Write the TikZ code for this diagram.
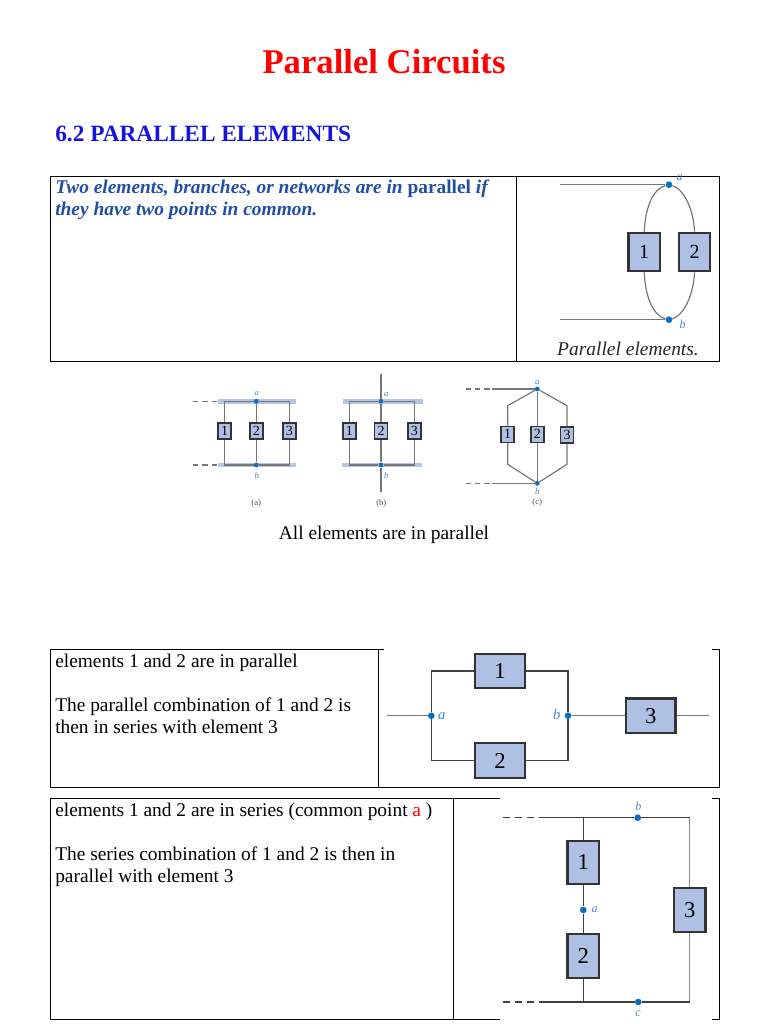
\documentclass[tikz,border=0pt]{standalone}
\usepackage{fontspec}
\setmainfont{Liberation Serif}
\usetikzlibrary{positioning}
\definecolor{myblue}{HTML}{AEC1E4}
\definecolor{mydot}{HTML}{0B6FBF}
\definecolor{mylabel}{HTML}{4A86C8}
\definecolor{myband}{HTML}{B4C5E6}
\definecolor{myhead}{HTML}{1414DC}
\definecolor{mynote}{HTML}{1F4EA8}
\definecolor{mywire}{HTML}{777777}
\newcommand{\SzBody}{\fontsize{14.55}{16.5}\selectfont}
\newcommand{\SzSmall}{\fontsize{10.5}{11}\selectfont}
\newcommand{\SzBig}{\fontsize{17}{18}\selectfont}
\tikzset{
  element/.style={draw=black!80, fill=myblue, line width=1.6pt, inner sep=0pt, minimum width=31.5pt*0.75, minimum height=38.5pt*0.75, font=\fontsize{15}{16}\selectfont},
  elementS/.style={element, line width=1.2pt, minimum width=13pt*0.75, minimum height=16pt*0.75, font=\SzSmall},
  elementW/.style={element, minimum width=49.5pt*0.75, minimum height=34.5pt*0.75, font=\SzBig},
  elementT/.style={element, minimum width=31.5pt*0.75, minimum height=43.5pt*0.75, font=\SzBig},
  junction/.style={circle, fill=mydot, inner sep=0pt, minimum size=5pt},
  junctionS/.style={circle, fill=mydot, inner sep=0pt, minimum size=3.6pt},
  wire/.style={draw=mywire, line width=0.9pt},
  darkwire/.style={draw=black!75, line width=0.8pt},
  greywire/.style={draw=black!45, line width=1pt},
  dashS/.style={dash pattern=on 4pt off 3pt},
  dashL/.style={dash pattern=on 5pt off 4pt},
  band/.style={draw=none, fill=myband, inner sep=0pt, minimum height=4.5pt*0.75},
  frame/.style={draw=black, line width=0.75pt},
  tag/.style={mylabel, inner sep=0pt, font=\itshape\fontsize{9}{10}\selectfont},
  tagS/.style={mylabel, inner sep=0pt, font=\itshape\fontsize{6.5}{7}\selectfont},
  tagW/.style={tag, font=\itshape\fontsize{11}{12}\selectfont},
  capt/.style={black!70, inner sep=0pt, font=\fontsize{6.5}{7}\selectfont},
  body/.style={inner sep=0pt, anchor=north west, align=left, font=\SzBody},
}
\begin{document}
\begin{tikzpicture}[x=0.75pt, y=-0.75pt]
  \useasboundingbox (0,0) rectangle (768,1024);

  \node[inner sep=0pt, red, font=\bfseries\fontsize{26}{30}\selectfont] (title) at (384,62) {Parallel Circuits};
  \node[inner sep=0pt, anchor=west, myhead, font=\bfseries\fontsize{17.5}{20}\selectfont] (head) at (55,133.5) {6.2 PARALLEL ELEMENTS};

  % first table
  \draw[frame] (50,176) rectangle (719,361);
  \draw[frame] (516,176) -- (516,361);
  \node[body, mynote, font=\SzBody\bfseries\itshape] (note) at (55,179.5) {Two elements, branches, or networks are in {\upshape parallel} if\\they have two points in common.};
  \node[junction] (Ta) at (669,184.7) {};
  \node[junction] (Tb) at (669,319.7) {};
  \coordinate (TaL) at (560,184.7);
  \coordinate (TbL) at (560,319.7);
  \node[element] (T1) at (644.2,252) {1};
  \node[element] (T2) at (694.5,252) {2};
  \draw[wire] (TaL) -- (Ta);
  \draw[wire] (TbL) -- (Tb);
  \draw[wire] (Ta) .. controls +(-16,4) and +(1,-24) .. (T1.north);
  \draw[wire] (Ta) .. controls +(14,4) and +(-1,-24) .. (T2.north);
  \draw[wire] (Tb) .. controls +(-16,-4) and +(1,24) .. (T1.south);
  \draw[wire] (Tb) .. controls +(14,-4) and +(-1,24) .. (T2.south);
  \node[tag] (Tla) at (679.5,178) {a};
  \node[tag] (Tlb) at (682.7,324) {b};
  \node[inner sep=0pt, black!85, font=\itshape\fontsize{14.6}{16}\selectfont] (Tcap) at (628,348.5) {Parallel elements.};

  % figure (a)
  \node[band, minimum width=78pt*0.75] (Aband) at (256.5,401.3) {};
  \node[band, minimum width=78pt*0.75] (Bband) at (256.5,465) {};
  \node[junctionS] (Aa) at (256.3,401.3) {};
  \node[junctionS] (Ab) at (256.3,465) {};
  \node[elementS] (A1) at (224.7,431) {1};
  \node[elementS] (A2) at (256.3,431) {2};
  \node[elementS] (A3) at (289.3,431) {3};
  \coordinate (AaL) at (193,401.3);
  \coordinate (AaM) at (217,401.3);
  \coordinate (AbL) at (193,465);
  \coordinate (AbM) at (217,465);
  \draw[wire, dashS] (AaL) -- (AaM);
  \draw[wire, dashS] (AbL) -- (AbM);
  \draw[wire] (Aa) -| (A3);
  \draw[wire] (Ab) -| (A3);
  \draw[wire] (Aa) -| (A1);
  \draw[wire] (Ab) -| (A1);
  \draw[wire] (Aa) -- (A2);
  \draw[wire] (Ab) -- (A2);
  \node[tagS] (Ala) at (256.7,393.3) {a};
  \node[tagS] (Alb) at (256.7,475.7) {b};
  \node[capt] (Acap) at (256.3,503) {(a)};

  % figure (b)
  \node[band, minimum width=80pt*0.75] (Cband) at (382.8,401.3) {};
  \node[band, minimum width=80pt*0.75] (Dband) at (381.8,465) {};
  \node[junctionS] (Ba) at (381,401.3) {};
  \node[junctionS] (Bb) at (381,465) {};
  \node[elementS] (B1) at (349.3,431) {1};
  \node[elementS] (B2) at (381,431) {2};
  \node[elementS] (B3) at (414.3,431) {3};
  \coordinate (BaT) at (381,374);
  \coordinate (BbB) at (381,492);
  \draw[wire] (BaT) -- (Ba);
  \draw[wire] (BbB) -- (Bb);
  \draw[wire] (Ba) -| (B1);
  \draw[wire] (Bb) -| (B1);
  \draw[wire] (Ba) -| (B3);
  \draw[wire] (Bb) -| (B3);
  \draw[wire] (Ba) -- (B2);
  \draw[wire] (Bb) -- (B2);
  \node[tagS] (Bla) at (386.3,395) {a};
  \node[tagS] (Blb) at (386.3,476) {b};
  \node[capt] (Bcap) at (381.3,503) {(b)};

  % figure (c)
  \node[junctionS] (Ca) at (537.3,389) {};
  \node[junctionS] (Cb) at (537.3,483.3) {};
  \node[elementS] (C1) at (507.7,434.3) {1};
  \node[elementS] (C2) at (537.3,434.3) {2};
  \node[elementS] (C3) at (567,435) {3};
  \coordinate (CaL) at (465.7,389);
  \coordinate (CaM) at (491.7,389);
  \coordinate (CbL) at (465.7,483.3);
  \coordinate (CbM) at (491.7,483.3);
  \coordinate (C1t) at (507.7,405.7);
  \coordinate (C1b) at (507.7,464.3);
  \coordinate (C3t) at (567,405.7);
  \coordinate (C3b) at (567,464.3);
  \draw[wire, dashS] (CaL) -- (CaM);
  \draw[wire, dashS] (CbL) -- (CbM);
  \draw[wire] (CaM) -- (Ca);
  \draw[wire] (CbM) -- (Cb);
  \draw[wire] (Ca) -- (C1t) -- (C1);
  \draw[wire] (Ca) -- (C3t) -- (C3);
  \draw[wire] (Cb) -- (C1b) -- (C1);
  \draw[wire] (Cb) -- (C3b) -- (C3);
  \draw[wire] (Ca) -- (C2);
  \draw[wire] (Cb) -- (C2);
  \node[tagS] (Cla) at (537.3,382.3) {a};
  \node[tagS] (Clb) at (537.3,491.7) {b};
  \node[capt] (Ccap) at (537.3,502.5) {(c)};

  \node[inner sep=0pt, font=\SzBody] (all) at (384,535) {All elements are in parallel};

  % second table
  \draw[frame] (50,649) -- (384,649);
  \draw[frame] (50,649) -- (50,787) -- (719,787) -- (719,649) -- (712,649);
  \draw[frame] (378,649) -- (378,787);
  \node[body] (second) at (55,653.5) {elements 1 and 2 are in parallel\\[16.5pt]The parallel combination of 1 and 2 is\\then in series with element 3};
  \node[junction] (Pa) at (431.3,715.7) {};
  \node[junction] (Pb) at (568,715.7) {};
  \node[elementW] (P1) at (500,671) {1};
  \node[elementW] (P2) at (500,760.5) {2};
  \node[elementW] (P3) at (650.7,715.7) {3};
  \coordinate (PL) at (386.7,715.7);
  \coordinate (PR) at (709,715.7);
  \draw[wire] (PL) -- (Pa);
  \draw[darkwire] (Pa) |- (P1);
  \draw[darkwire] (Pa) |- (P2);
  \draw[darkwire] (Pb) |- (P1);
  \draw[darkwire] (Pb) |- (P2);
  \draw[wire] (Pb) -- (P3);
  \draw[wire] (P3) -- (PR);
  \node[tagW] (Pla) at (441.7,715.7) {a};
  \node[tagW] (Plb) at (556.7,714.7) {b};

  % third table
  \draw[frame] (50,798) -- (500,798);
  \draw[frame] (500,1019) -- (50,1019) -- (50,798);
  \draw[frame] (712,798) -- (719,798) -- (719,1019) -- (712,1019);
  \draw[frame] (453,798) -- (453,1019);
  \node[body] (third) at (55,803) {elements 1 and 2 are in series (common point {\color{red}a} )\\[16.5pt]The series combination of 1 and 2 is then in\\parallel with element 3};
  \node[junction] (Sa) at (583.3,910) {};
  \node[junction] (Sb) at (637.7,817.7) {};
  \node[junction] (Sc) at (638.3,1002) {};
  \node[elementT] (S1) at (583.3,862.5) {1};
  \node[elementT] (S2) at (583.3,956) {2};
  \node[elementT] (S3) at (689.7,910) {3};
  \coordinate (StL) at (503.3,817.7);
  \coordinate (StM) at (541.7,817.7);
  \coordinate (SbL) at (503.3,1002);
  \coordinate (SbM) at (541.7,1002);
  \coordinate (St) at (583.3,817.7);
  \coordinate (Sd) at (583.3,1002);
  \coordinate (Sr) at (689.7,817.7);
  \coordinate (Sq) at (689.7,1002);
  \draw[darkwire, dashL, line width=1.1pt] (StL) -- (StM);
  \draw[darkwire, dashL] (SbL) -- (SbM);
  \draw[greywire] (Sr) -- (S3);
  \draw[greywire] (Sq) -- (S3);
  \draw[darkwire, line width=1.1pt] (StM) -- (Sb);
  \draw[darkwire, line width=1.1pt] (Sb) -- (Sr);
  \draw[darkwire] (SbM) -- (Sc);
  \draw[darkwire] (Sc) -- (Sq);
  \draw[darkwire] (St) -- (S1);
  \draw[darkwire] (S1) -- (Sa);
  \draw[darkwire] (Sa) -- (S2);
  \draw[darkwire] (S2) -- (Sd);
  \node[tag] (Sla) at (594.7,910) {a};
  \node[tag] (Slb) at (638.3,806.7) {b};
  \node[tag] (Slc) at (638,1013.3) {c};
\end{tikzpicture}
\end{document}
